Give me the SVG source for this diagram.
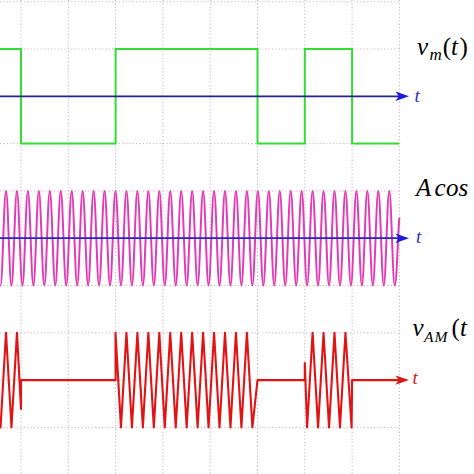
<svg xmlns="http://www.w3.org/2000/svg" width="474" height="474" viewBox="0 0 474 474">
<style>
.hg{stroke:#d9a3ab;stroke-width:1;stroke-dasharray:1 2.4;fill:none}
.vg{stroke:#bba9b2;stroke-width:1;stroke-dasharray:1 2.4;fill:none}
.lbl{font-family:"Liberation Serif","DejaVu Serif",serif;font-style:italic;font-size:25px;fill:#000}
.tl{font-family:"Liberation Serif","DejaVu Serif",serif;font-style:italic;font-size:19px}
.up{font-style:normal}
</style>
<rect width="474" height="474" fill="#fff"/>
<g id="grid">
<path class="vg" d="M21,0V474M68.3,0V474M115.6,0V474M162.9,0V474M210.2,0V474M257.5,0V474M304.8,0V474M352.1,0V474M399.4,0V474"/>
<path class="hg" d="M0,1.7H399.4M0,49H399.4M0,96.3H399.4M0,143.6H399.4M0,190.9H399.4M0,238.2H399.4M0,285.5H399.4M0,332.8H399.4M0,380.1H399.4M0,427.4H399.4"/>
</g>
<g id="modulating">
<path d="M0,49H21V143.6H115.6V49H257.5V143.6H304.8V49H352.1V143.6H399.4" fill="none" stroke="#33dd33" stroke-width="2"/>
<path d="M0,96.3H399" stroke="#222290" stroke-width="1.8"/>
<path d="M409,96.3L395.5,91.6L398.8,96.3L395.5,101Z" fill="#1a1ae0"/>
<text class="tl" x="414.5" y="101.5" fill="#3030c8">t</text>
<text class="lbl" y="55"><tspan x="417">v</tspan><tspan x="429.5" y="60" font-size="17">m</tspan><tspan x="442.8" y="55" class="up">(</tspan><tspan x="451">t</tspan><tspan x="459.5" class="up">)</tspan></text>
</g>
<g id="carrier">
<path fill="none" stroke="#e23cb4" stroke-width="2" d="M0,285.3L0.525,285.5c1.993,0 3.482,-94.6 5.475,-94.6
s3.482,94.6 5.475,94.6 s3.482,-94.6 5.475,-94.6 s3.482,94.6 5.475,94.6 s3.482,-94.6 5.475,-94.6 s3.482,94.6 5.475,94.6 s3.482,-94.6 5.475,-94.6 s3.482,94.6 5.475,94.6 s3.482,-94.6 5.475,-94.6 s3.482,94.6 5.475,94.6 s3.482,-94.6 5.475,-94.6
s3.482,94.6 5.475,94.6 s3.482,-94.6 5.475,-94.6 s3.482,94.6 5.475,94.6 s3.482,-94.6 5.475,-94.6 s3.482,94.6 5.475,94.6 s3.482,-94.6 5.475,-94.6 s3.482,94.6 5.475,94.6 s3.482,-94.6 5.475,-94.6 s3.482,94.6 5.475,94.6 s3.482,-94.6 5.475,-94.6
s3.482,94.6 5.475,94.6 s3.482,-94.6 5.475,-94.6 s3.482,94.6 5.475,94.6 s3.482,-94.6 5.475,-94.6 s3.482,94.6 5.475,94.6 s3.482,-94.6 5.475,-94.6 s3.482,94.6 5.475,94.6 s3.482,-94.6 5.475,-94.6 s3.482,94.6 5.475,94.6 s3.482,-94.6 5.475,-94.6
s3.482,94.6 5.475,94.6 s3.482,-94.6 5.475,-94.6 s3.482,94.6 5.475,94.6 s3.482,-94.6 5.475,-94.6 s3.482,94.6 5.475,94.6 s3.482,-94.6 5.475,-94.6 s3.482,94.6 5.475,94.6 s3.482,-94.6 5.475,-94.6 s3.482,94.6 5.475,94.6 s3.482,-94.6 5.475,-94.6
s3.482,94.6 5.475,94.6 s3.482,-94.6 5.475,-94.6 s3.482,94.6 5.475,94.6 s3.482,-94.6 5.475,-94.6 s3.482,94.6 5.475,94.6 s3.482,-94.6 5.475,-94.6 s3.482,94.6 5.475,94.6 s3.482,-94.6 5.475,-94.6 s3.482,94.6 5.475,94.6 s3.482,-94.6 5.475,-94.6
s3.482,94.6 5.475,94.6 s3.482,-94.6 5.475,-94.6 s3.482,94.6 5.475,94.6 s3.482,-94.6 5.475,-94.6 s3.482,94.6 5.475,94.6 s3.482,-94.6 5.475,-94.6 s3.482,94.6 5.475,94.6 s3.482,-94.6 5.475,-94.6 s3.482,94.6 5.475,94.6 s3.482,-94.6 5.475,-94.6
s3.482,94.6 5.475,94.6 s3.482,-94.6 5.475,-94.6 s3.482,94.6 5.475,94.6 s3.482,-94.6 5.475,-94.6 s3.482,94.6 5.475,94.6 s3.482,-94.6 5.475,-94.6 s3.482,94.6 5.475,94.6 s3.482,-94.6 5.475,-94.6 s3.482,94.6 5.475,94.6 s3.482,-94.6 5.475,-94.6
s3.482,94.6 5.475,94.6 c1.993,0 3,-50 4.675,-68"/>
<path d="M0,238.2H399" stroke="#2424c8" stroke-width="1.8"/>
<path d="M409,238.2L395.5,233.5L398.8,238.2L395.5,242.9Z" fill="#1a1ae0"/>
<text class="tl" x="416" y="242.5" fill="#3030c8">t</text>
<text class="lbl" y="196"><tspan x="416">A</tspan><tspan x="434.5">c</tspan><tspan x="446">o</tspan><tspan x="458.5">s</tspan></text>
</g>
<g id="am">
<polyline fill="none" stroke="#e01414" stroke-width="2.1" stroke-linejoin="round" points="0,425 0.525,427.4 6,332.8 11.475,427.4 16.95,332.8 21,409 21,380.1 115.6,380.1 115.5,332.8 120.975,427.4 126.45,332.8 131.925,427.4 137.4,332.8 142.875,427.4 148.35,332.8 153.825,427.4 159.3,332.8 164.775,427.4 170.25,332.8 175.725,427.4 181.2,332.8 186.675,427.4 192.15,332.8 197.625,427.4 203.1,332.8 208.575,427.4 214.05,332.8 219.525,427.4 225,332.8 230.475,427.4 235.95,332.8 241.425,427.4 246.9,332.8 252.375,427.4 257.5,380.1 304.8,380.1 304.8,363 307.125,427.4 312.6,332.8 318.075,427.4 323.55,332.8 329.025,427.4 334.5,332.8 339.975,427.4 345.45,332.8 351.6,427.4 352.1,380.1 399,380.1"/>
<path d="M409,380.1L395.5,375.4L398.8,380.1L395.5,384.8Z" fill="#e01414"/>
<text class="tl" x="412.5" y="384" fill="#d42020">t</text>
<text class="lbl" y="336"><tspan x="412.5">v</tspan><tspan x="424" y="341.7" font-size="15.5">A</tspan><tspan x="434.5" font-size="15.5">M</tspan><tspan x="451.5" y="336" class="up">(</tspan><tspan x="460">t</tspan></text>
</g>
</svg>
